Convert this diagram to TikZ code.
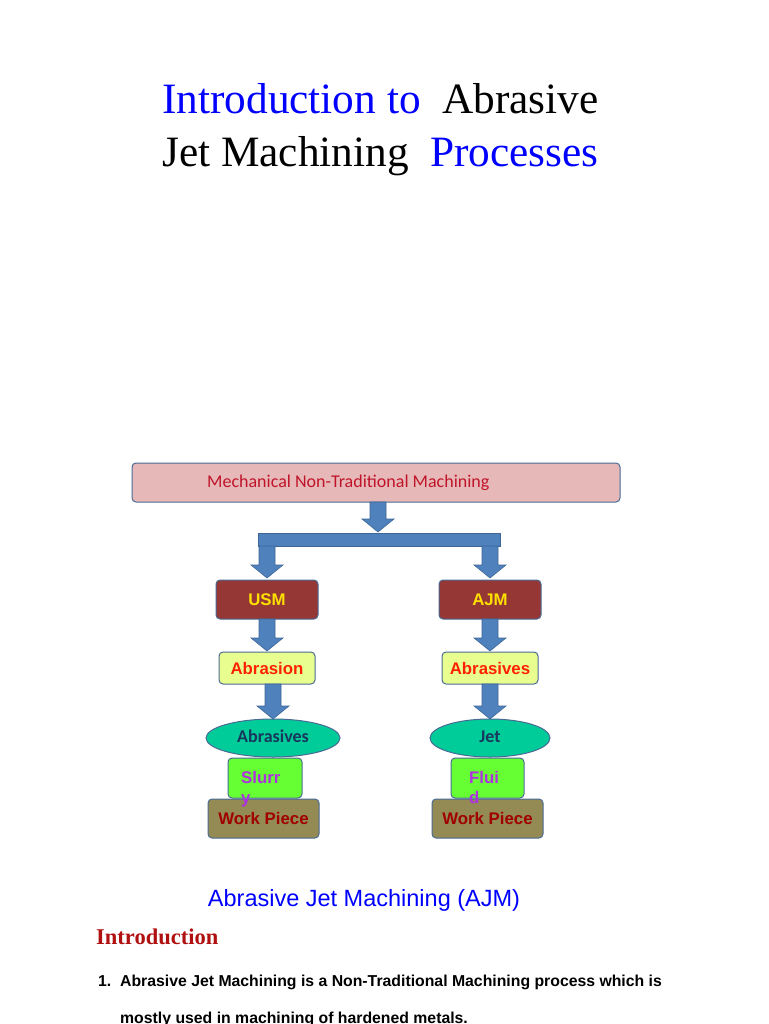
\documentclass[tikz,border=0pt]{standalone}
\usepackage{fontspec}
\setmainfont{Liberation Serif}
\newfontfamily\sans{Liberation Sans}
\newfontfamily\carl{Carlito}
\usetikzlibrary{shapes.geometric}
\definecolor{tblue}{HTML}{0000FF}
\definecolor{pinkf}{HTML}{E6B9B8}
\definecolor{bord}{HTML}{4A6A94}
\definecolor{mred}{HTML}{C0142A}
\definecolor{usmf}{HTML}{953735}
\definecolor{yel}{HTML}{FFE000}
\definecolor{abrf}{HTML}{E8FF90}
\definecolor{abrt}{HTML}{FF2200}
\definecolor{tealf}{HTML}{00CC99}
\definecolor{navy}{HTML}{17375E}
\definecolor{greenf}{HTML}{66FF33}
\definecolor{purp}{HTML}{B030E0}
\definecolor{olive}{HTML}{948A54}
\definecolor{wpt}{HTML}{A00000}
\definecolor{arr}{HTML}{4F81BD}
\definecolor{arrb}{HTML}{3D6798}
\definecolor{ired}{HTML}{B01010}
\begin{document}
\begin{tikzpicture}[x=1pt,y=-1pt,
 box/.style={draw=bord,line width=1pt,rounded corners=4pt,inner sep=0pt},
 fat/.style={fill=arr,draw=arrb,line width=0.6pt},
 lbl/.style={font=\sans\bfseries\fontsize{16.8}{16.8}\selectfont},
 ell/.style={ellipse,draw=bord,line width=1pt,fill=tealf,minimum height=38pt,inner sep=0,text=navy,text height=12pt,text depth=3pt,font=\carl\bfseries\fontsize{18}{18}\selectfont}]
\useasboundingbox (0,0) rectangle (768,1024);
% title
\node[anchor=base west,font=\fontsize{43.3}{43.3}\selectfont,inner sep=0] (t1) at (162,114) {\textcolor{tblue}{Introduction to}\ \ Abrasive};
\node[anchor=base west,font=\fontsize{43.3}{43.3}\selectfont,inner sep=0] (t2) at (162,167) {Jet Machining\ \ \textcolor{tblue}{Processes}};
% top box
\node[box,fill=pinkf,minimum width=488pt,minimum height=39pt] (top) at (376,482.5) {};
\node[anchor=west,text=mred,font=\carl\fontsize{18}{18}\selectfont,inner sep=0] (toplbl) at (207,482.5) {Mechanical Non-Traditional Machining};
% level boxes
\node[box,fill=usmf,minimum width=102pt,minimum height=39pt,text=yel,lbl] (usm) at (267,599.5) {USM};
\node[box,fill=usmf,minimum width=102pt,minimum height=39pt,text=yel,lbl] (ajm) at (490,599.5) {AJM};
\node[box,fill=abrf,minimum width=96pt,minimum height=32pt,text=abrt,lbl] (abr) at (267,668) {Abrasion};
\node[box,fill=abrf,minimum width=96pt,minimum height=32pt,text=abrt,lbl] (abs) at (490,668) {Abrasives};
\node[ell,minimum width=134pt] (ell1) at (273,738) {Abrasives};
\node[ell,minimum width=120pt] (ell2) at (490,738) {Jet};
\node[box,fill=greenf,minimum width=74pt,minimum height=40pt] (sl) at (265,778) {};
\node[box,fill=greenf,minimum width=73pt,minimum height=40pt] (fl) at (487.5,778) {};
\node[box,fill=olive,minimum width=111pt,minimum height=39pt,text=wpt,lbl] (wp1) at (263.5,818.5) {Work Piece};
\node[box,fill=olive,minimum width=111pt,minimum height=39pt,text=wpt,lbl] (wp2) at (487.5,818.5) {Work Piece};
\node[anchor=base west,text=purp,lbl,inner sep=0] (s1) at (241,783) {Slurr};
\node[anchor=base west,text=purp,lbl,inner sep=0] (s2) at (241,803) {y};
\node[anchor=base west,text=purp,lbl,inner sep=0] (f1) at (469,783) {Flui};
\node[anchor=base west,text=purp,lbl,inner sep=0] (f2) at (469,803) {d};
% block arrows
\newcommand{\fatarrow}[3]{% x, ytop, ybottom
 \path[fat] (#1-8,#2) -- (#1+8,#2) -- (#1+8,#3-13) -- (#1+16,#3-13) -- (#1,#3) -- (#1-16,#3-13) -- (#1-8,#3-13) -- cycle;}
\fatarrow{378}{502}{532}
\path[fat] (258,533) rectangle (500,546);
\fatarrow{267}{546}{578}
\fatarrow{490}{546}{578}
\fatarrow{267}{619}{651}
\fatarrow{490}{619}{651}
\fatarrow{273}{684}{719}
\fatarrow{490}{684}{719}
% text below
\node[text=tblue,font=\sans\fontsize{23.5}{23.5}\selectfont,inner sep=0] (ajmt) at (364,900) {Abrasive Jet Machining (AJM)};
\node[anchor=base west,text=ired,font=\bfseries\fontsize{22.5}{22.5}\selectfont,inner sep=0] (intro) at (96,944) {Introduction};
\node[anchor=base west,font=\sans\bfseries\fontsize{15.8}{15.8}\selectfont,inner sep=0] (p1) at (98,986) {1.\ \ Abrasive Jet Machining is a Non-Traditional Machining process which is};
\node[anchor=base west,font=\sans\bfseries\fontsize{15.8}{15.8}\selectfont,inner sep=0] (p2) at (120,1023) {mostly used in machining of hardened metals.};
\end{tikzpicture}
\end{document}
